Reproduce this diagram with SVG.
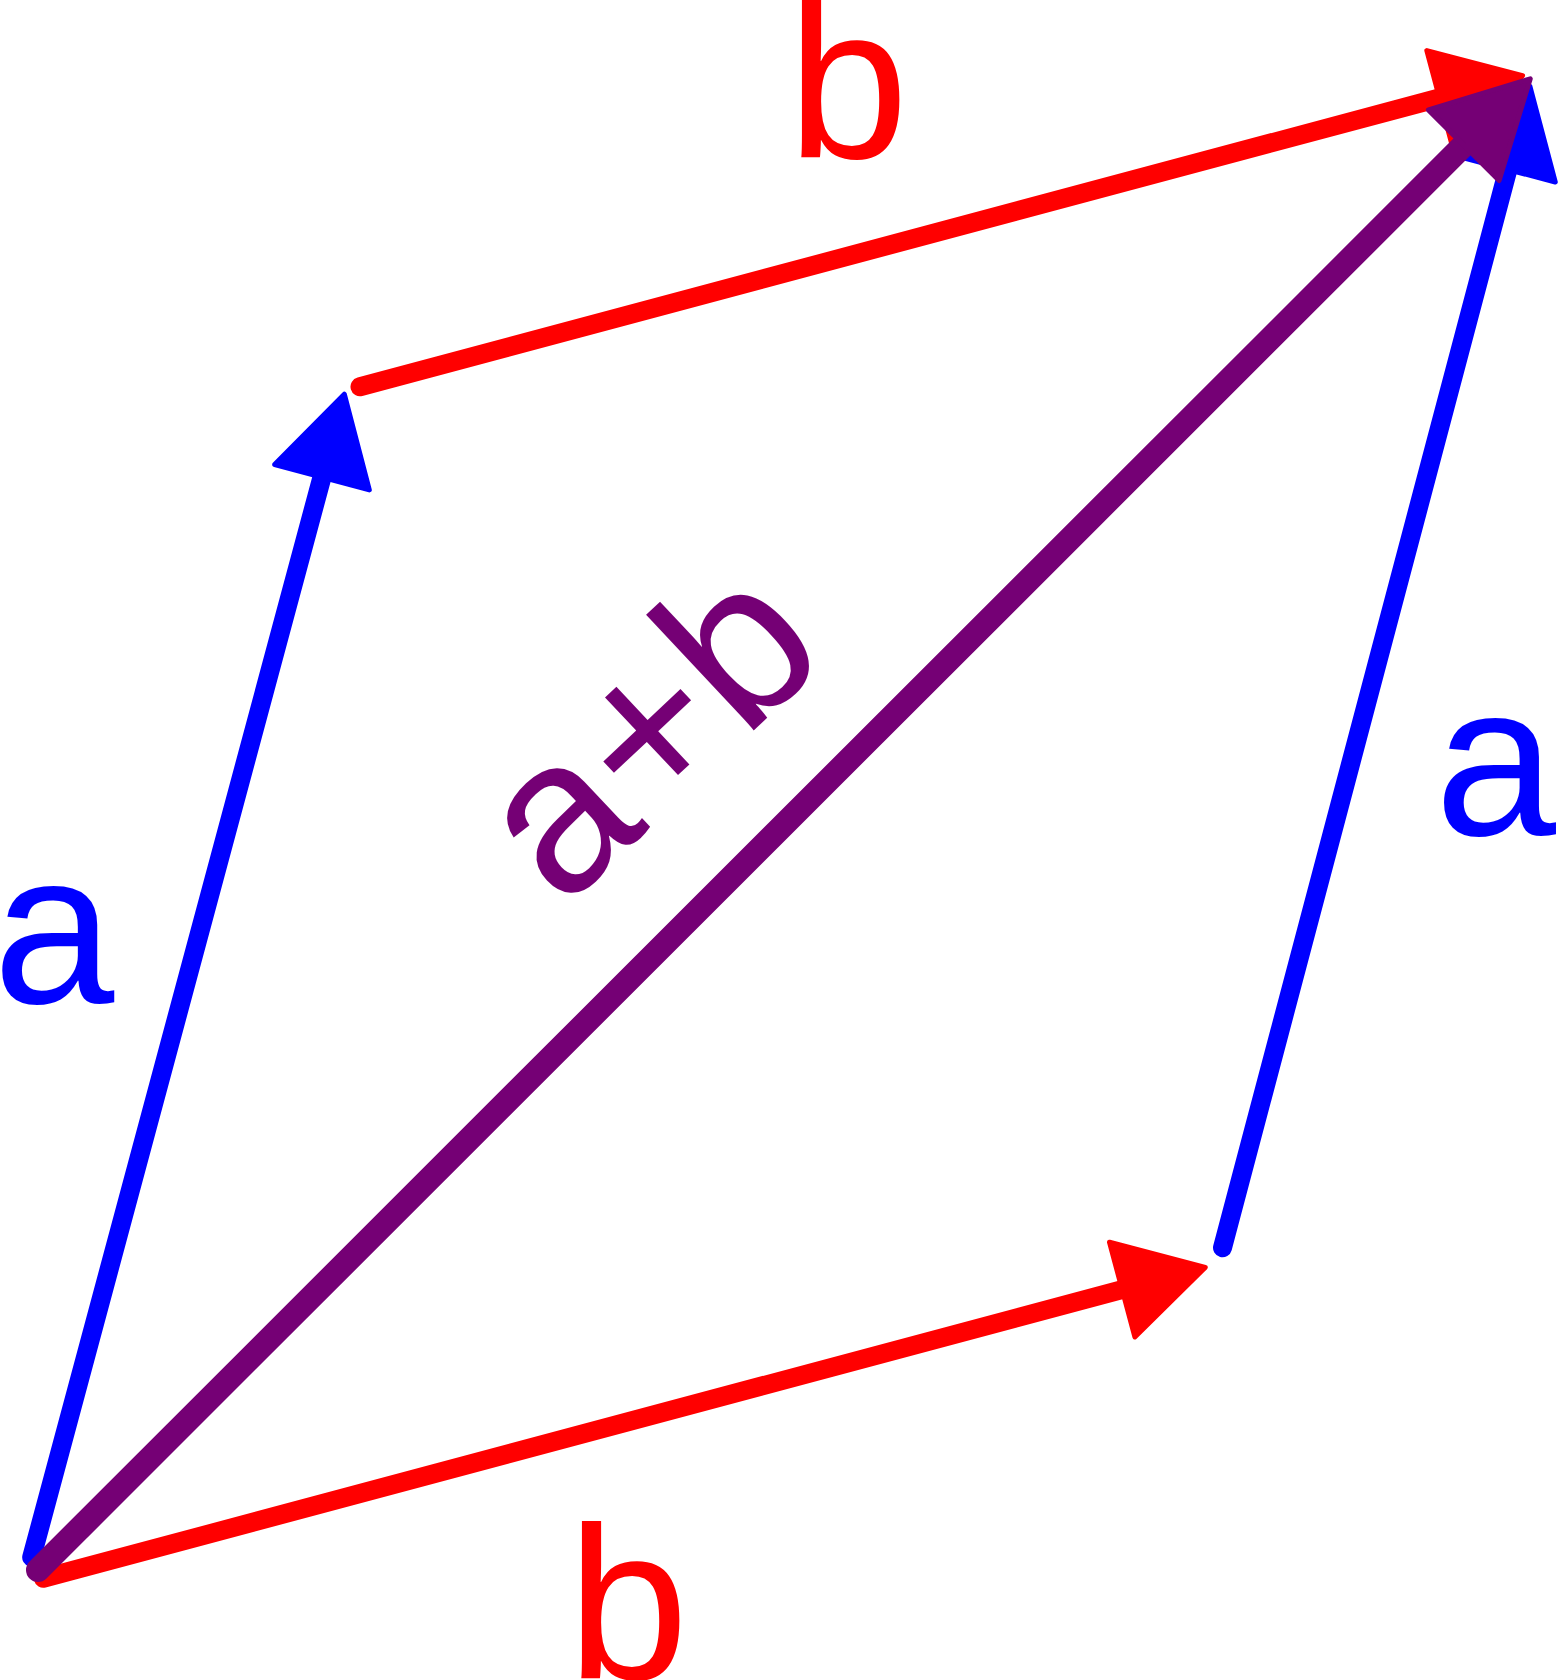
<svg xmlns="http://www.w3.org/2000/svg" width="1561" height="1680" viewBox="0 0 1561 1680">
  <style>
    .vec { fill: none; stroke-linecap: round; }
    .red { stroke: #ff0000; stroke-width: 19; }
    .blue { stroke: #0000ff; stroke-width: 19; }
    .purple { stroke: #750075; stroke-width: 24; }
    .lbl { font-family: "Liberation Sans", Arial, sans-serif; font-size: 218px; }
    .head { stroke-width: 5; stroke-linejoin: round; }
  </style>
  <defs>
    <marker id="ah-red" markerUnits="userSpaceOnUse" orient="auto" overflow="visible" refX="8.5" refY="0" markerWidth="100" markerHeight="110">
      <polygon class="head" points="0,-49 86,0 0,49" fill="#ff0000" stroke="#ff0000"/>
    </marker>
    <marker id="ah-blue" markerUnits="userSpaceOnUse" orient="auto" overflow="visible" refX="8.5" refY="0" markerWidth="100" markerHeight="110">
      <polygon class="head" points="0,-49 86,0 0,49" fill="#0000ff" stroke="#0000ff"/>
    </marker>
    <marker id="ah-purple" markerUnits="userSpaceOnUse" orient="auto" overflow="visible" refX="11.5" refY="0" markerWidth="110" markerHeight="110">
      <polygon class="head" points="0,-50 94,0 0,50" fill="#750075" stroke="#750075"/>
    </marker>
  </defs>
  <rect width="1561" height="1680" fill="#ffffff"/>
  <g id="connectors">
    <path id="b-bottom" class="vec red" d="M43.3,1578.3 L1130.4,1287.4" marker-end="url(#ah-red)"/>
    <path id="b-top" class="vec red" d="M360,386.7 L1447.7,95.7" marker-end="url(#ah-red)"/>
    <path id="a-left" class="vec blue" d="M31.7,1557.3 L324.2,469.0" marker-end="url(#ah-blue)"/>
    <path id="a-right" class="vec blue" d="M1222.5,1247.7 L1510.1,161.3" marker-end="url(#ah-blue)"/>
    <path id="a-plus-b" class="vec purple" d="M38,1570 L1471.9,137.1" marker-end="url(#ah-purple)"/>
  </g>
  <g id="label-a-left"><text class="lbl" x="-7" y="1002.5" fill="#0000ff">a</text></g>
  <g id="label-a-right"><text class="lbl" x="1434.8" y="834.5" fill="#0000ff">a</text></g>
  <g id="label-b-top"><text class="lbl" x="787.3" y="156.5" fill="#ff0000">b</text></g>
  <g id="label-b-bottom"><text class="lbl" x="567.3" y="1677.5" fill="#ff0000">b</text></g>
  <g id="label-a-plus-b"><text class="lbl" x="697" y="783.7" text-anchor="middle" fill="#750075" font-size="217" transform="rotate(-43.2 697 783.7)">a+b</text></g>
</svg>
